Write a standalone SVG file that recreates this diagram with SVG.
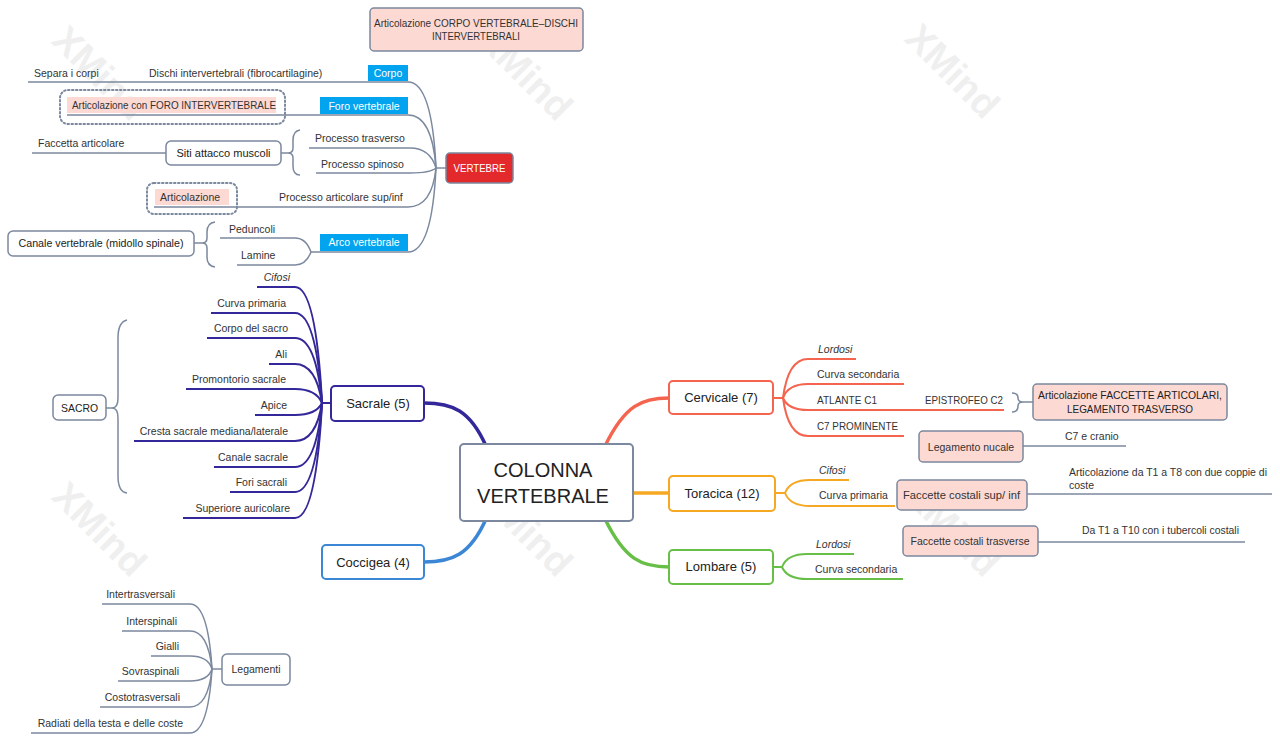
<svg xmlns="http://www.w3.org/2000/svg" width="1280" height="741" viewBox="0 0 1280 741">
<style>
text{font-family:"Liberation Sans",Arial,sans-serif;fill:#333;font-size:10.5px}
.wm{font-size:38px;font-weight:bold;fill:#efefef}
.c{text-anchor:middle}
.e{text-anchor:end}
.it{font-style:italic}
.g{fill:none;stroke:#7b889e;stroke-width:1.5}
.ind{fill:none;stroke:#33279a;stroke-width:2}
.red{fill:none;stroke:#f4644f;stroke-width:2}
.org{fill:none;stroke:#f6a823;stroke-width:2}
.grn{fill:none;stroke:#68bf47;stroke-width:2}
.box{fill:#fff;stroke:#7b889e;stroke-width:1.5}
.pink{fill:#fdd9d3;stroke:#7b889e;stroke-width:1.5}
.lbl{fill:#02a3ef}
.wt{fill:#fff}
.dot{fill:none;stroke:#7b889e;stroke-width:2;stroke-dasharray:1.5 2.5;stroke-linecap:round}
.mt{font-size:13px;fill:#222}
</style>
<rect width="1280" height="741" fill="#fff"/>
<g id="watermarks">
<text class="wm" transform="translate(50,42) rotate(45)">XMind</text>
<text class="wm" transform="translate(476,42) rotate(45)">XMind</text>
<text class="wm" transform="translate(903,40) rotate(45)">XMind</text>
<text class="wm" transform="translate(50,498) rotate(45)">XMind</text>
<text class="wm" transform="translate(476,498) rotate(45)">XMind</text>
<text class="wm" transform="translate(903,498) rotate(45)">XMind</text>
</g>
<g id="connectors">
<path d="M486 446 C470 410 452 403 424 403" fill="none" stroke="#33279a" stroke-width="3.5"/>
<path d="M486 519 C470 555 452 562 424 562" fill="none" stroke="#3b87d6" stroke-width="3.5"/>
<path d="M605 446 C625 405 642 398 669 398" fill="none" stroke="#f4644f" stroke-width="3.5"/>
<path d="M633 493 L669 493" fill="none" stroke="#f6a823" stroke-width="3.5"/>
<path d="M605 519 C625 560 642 567 669 567" fill="none" stroke="#68bf47" stroke-width="3.5"/>
<path class="g" d="M446 168 L436 168"/>
<path class="g" d="M436 168 Q432 82 408 82 L28 82"/>
<path class="g" d="M436 168 Q432 115 408 115 L67 115"/>
<path class="g" d="M436 168 Q430 148 410 148 L309 148"/>
<path class="g" d="M436 168 Q430 173 410 173 L316 173"/>
<path class="g" d="M436 168 Q432 207 408 207 L154 207"/>
<path class="g" d="M436 168 Q432 252 408 252 L320 252"/>
<path class="g" d="M320 252 L311 252 Q306 238 295 238 L220 238"/>
<path class="g" d="M311 252 Q306 265 295 265 L237 265"/>
<path class="g" d="M300 130 Q293 131 293 140 L293 148 Q293 153 288 153 Q293 153 293 158 L293 166 Q293 175 300 175"/>
<path class="g" d="M288 153 L281 153"/>
<path class="g" d="M166 153 L32 153"/>
<path class="g" d="M215 222 Q207 223 207 232 L207 238 Q207 243 202 243 Q207 243 207 248 L207 257 Q207 266 215 267"/>
<path class="g" d="M202 243 L194 243"/>
<path class="ind" d="M331 403 L322 403"/>
<path class="ind" d="M322 403 Q316 287 295 287 L257 287"/>
<path class="ind" d="M322 403 Q316 313 295 313 L211 313"/>
<path class="ind" d="M322 403 Q316 338 295 338 L207 338"/>
<path class="ind" d="M322 403 Q316 364 295 364 L269 364"/>
<path class="ind" d="M322 403 Q316 389 295 389 L186 389"/>
<path class="ind" d="M322 403 Q316 415 295 415 L255 415"/>
<path class="ind" d="M322 403 Q316 441 295 441 L134 441"/>
<path class="ind" d="M322 403 Q316 467 295 467 L214 467"/>
<path class="ind" d="M322 403 Q316 492 295 492 L230 492"/>
<path class="ind" d="M322 403 Q316 518 295 518 L183 518"/>
<path class="g" d="M127 320 Q118 322 118 338 L118 398 Q118 408 112 408 Q118 408 118 418 L118 476 Q118 492 127 493"/>
<path class="g" d="M112 408 L106 408"/>
<path class="red" d="M773 398 L783 398"/>
<path class="red" d="M783 398 Q788 359 808 359 L856 359"/>
<path class="red" d="M783 398 Q788 384 808 384 L904 384"/>
<path class="red" d="M783 398 Q788 410 808 410 L1004 410"/>
<path class="red" d="M783 398 Q788 436 808 436 L904 436"/>
<path class="g" d="M1012 393 Q1018 393 1018 398 Q1018 402 1023 402 Q1018 402 1018 406 Q1018 412 1012 412"/>
<path class="g" d="M1023 402 L1033 402"/>
<path class="g" d="M1023 446 L1126 446"/>
<path class="org" d="M775 493 L785 493"/>
<path class="org" d="M785 493 Q790 480 810 480 L849 480"/>
<path class="org" d="M785 493 Q790 506 810 506 L895 506"/>
<path class="g" d="M1027 494 L1272 494"/>
<path class="grn" d="M773 567 L782 567"/>
<path class="grn" d="M782 567 Q787 554 807 554 L854 554"/>
<path class="grn" d="M782 567 Q787 579 807 579 L903 579"/>
<path class="g" d="M1038 542 L1245 542"/>
<path class="g" d="M222 669 L212 669"/>
<path class="g" d="M212 669 Q208 604 190 604 L102 604"/>
<path class="g" d="M212 669 Q208 631 190 631 L122 631"/>
<path class="g" d="M212 669 Q208 656 190 656 L151 656"/>
<path class="g" d="M212 669 Q208 681 190 681 L118 681"/>
<path class="g" d="M212 669 Q208 707 190 707 L100 707"/>
<path class="g" d="M212 669 Q208 733 190 733 L31 733"/>
</g>
<g id="center">
<rect x="460" y="444" width="173" height="77" rx="4" fill="#fff" stroke="#7b889e" stroke-width="2"/>
<text class="c" x="543" y="477" style="font-size:20px;fill:#222">COLONNA</text>
<text class="c" x="543" y="503" style="font-size:20px;fill:#222">VERTEBRALE</text>
</g>
<g id="top-note">
<rect class="pink" x="370" y="8" width="213" height="43" rx="4"/>
<text class="c" x="476" y="27" textLength="204" lengthAdjust="spacingAndGlyphs">Articolazione CORPO VERTEBRALE–DISCHI</text>
<text class="c" x="476" y="40" textLength="88" lengthAdjust="spacingAndGlyphs">INTERVERTEBRALI</text>
</g>
<g id="vertebre">
<rect x="446" y="153" width="67" height="30" rx="4" fill="#e3292b" stroke="#7b889e" stroke-width="1.5"/>
<text class="c wt" x="479.5" y="172" textLength="52" lengthAdjust="spacingAndGlyphs">VERTEBRE</text>
</g>
<g id="corpo">
<rect class="lbl" x="368" y="65" width="40" height="16"/>
<text class="c wt" x="388" y="77">Corpo</text>
<text x="149" y="77">Dischi intervertebrali (fibrocartilagine)</text>
<text x="34" y="77">Separa i corpi</text>
</g>
<g id="foro">
<rect class="lbl" x="320" y="97" width="88" height="17"/>
<text class="c wt" x="364" y="110">Foro vertebrale</text>
<rect class="dot" x="60" y="90" width="225" height="34" rx="8"/>
<rect x="67" y="97" width="209" height="16" fill="#fdd9d3"/>
<text x="72" y="109" textLength="204" lengthAdjust="spacingAndGlyphs">Articolazione con FORO INTERVERTEBRALE</text>
</g>
<g id="processi">
<text x="315" y="142">Processo trasverso</text>
<text x="321" y="168">Processo spinoso</text>
<rect class="box" x="166" y="141" width="115" height="24" rx="5"/>
<text class="c" x="223.5" y="157" style="fill:#222;font-size:11px">Siti attacco muscoli</text>
<text x="38" y="147">Faccetta articolare</text>
</g>
<g id="articolare">
<text x="279" y="201">Processo articolare sup/inf</text>
<rect class="dot" x="147" y="183" width="90" height="31" rx="7"/>
<rect x="155" y="189" width="74" height="16" fill="#fdd9d3"/>
<text x="160" y="201">Articolazione</text>
</g>
<g id="arco">
<rect class="lbl" x="320" y="234" width="88" height="17"/>
<text class="c wt" x="364" y="246">Arco vertebrale</text>
<text x="229" y="233">Peduncoli</text>
<text x="241" y="259">Lamine</text>
<rect class="box" x="8" y="231" width="186" height="25" rx="5"/>
<text class="c" x="101" y="247" style="fill:#222;font-size:11px" textLength="165" lengthAdjust="spacingAndGlyphs">Canale vertebrale (midollo spinale)</text>
</g>
<g id="sacrale">
<rect x="331" y="386" width="93" height="35" rx="4" fill="#fff" stroke="#33279a" stroke-width="2"/>
<text class="c mt" x="378" y="408">Sacrale (5)</text>
<text class="e it" x="290" y="281">Cifosi</text>
<text class="e" x="286" y="307">Curva primaria</text>
<text class="e" x="288" y="332">Corpo del sacro</text>
<text class="e" x="287" y="358">Ali</text>
<text class="e" x="286" y="383">Promontorio sacrale</text>
<text class="e" x="287" y="409">Apice</text>
<text class="e" x="288" y="435">Cresta sacrale mediana/laterale</text>
<text class="e" x="288" y="461">Canale sacrale</text>
<text class="e" x="287" y="486">Fori sacrali</text>
<text class="e" x="290" y="512">Superiore auricolare</text>
</g>
<g id="sacro">
<rect class="box" x="53" y="395" width="53" height="25" rx="5"/>
<text class="c" x="79.5" y="412" style="fill:#222" textLength="37" lengthAdjust="spacingAndGlyphs">SACRO</text>
</g>
<g id="coccigea">
<rect x="322" y="545" width="102" height="34" rx="4" fill="#fff" stroke="#3b87d6" stroke-width="2"/>
<text class="c mt" x="373" y="567">Coccigea (4)</text>
</g>
<g id="cervicale">
<rect x="669" y="381" width="104" height="33" rx="4" fill="#fff" stroke="#f4644f" stroke-width="2"/>
<text class="c mt" x="721" y="402">Cervicale (7)</text>
<text class="it" x="818" y="353">Lordosi</text>
<text x="817" y="378">Curva secondaria</text>
<text x="817" y="404" textLength="60" lengthAdjust="spacingAndGlyphs">ATLANTE C1</text>
<text x="925" y="404" textLength="78" lengthAdjust="spacingAndGlyphs">EPISTROFEO C2</text>
<text x="817" y="430" textLength="81" lengthAdjust="spacingAndGlyphs">C7 PROMINENTE</text>
</g>
<g id="faccette-articolari">
<rect class="pink" x="1033" y="384" width="194" height="36" rx="4"/>
<text class="c" x="1130" y="399" style="fill:#222;font-size:11px" textLength="184" lengthAdjust="spacingAndGlyphs">Articolazione FACCETTE ARTICOLARI,</text>
<text class="c" x="1130" y="413" style="fill:#222;font-size:11px" textLength="126" lengthAdjust="spacingAndGlyphs">LEGAMENTO TRASVERSO</text>
</g>
<g id="legamento-nucale">
<rect class="pink" x="919" y="431" width="104" height="31" rx="4"/>
<text class="c" x="971" y="451">Legamento nucale</text>
<text x="1065" y="440">C7 e cranio</text>
</g>
<g id="toracica">
<rect x="669" y="476" width="106" height="35" rx="4" fill="#fff" stroke="#f6a823" stroke-width="2"/>
<text class="c mt" x="722" y="498">Toracica (12)</text>
<text class="it" x="819" y="474">Cifosi</text>
<text x="819" y="499">Curva primaria</text>
</g>
<g id="faccette-sup-inf">
<rect class="pink" x="897" y="480" width="130" height="30" rx="4"/>
<text x="903" y="499" textLength="117" lengthAdjust="spacingAndGlyphs">Faccette costali  sup/ inf</text>
<text x="1069" y="476" textLength="198" lengthAdjust="spacingAndGlyphs">Articolazione da T1 a T8 con due coppie di</text>
<text x="1069" y="489">coste</text>
</g>
<g id="lombare">
<rect x="669" y="550" width="104" height="34" rx="4" fill="#fff" stroke="#68bf47" stroke-width="2"/>
<text class="c mt" x="721" y="571">Lombare (5)</text>
<text class="it" x="816" y="548">Lordosi</text>
<text x="815" y="573">Curva secondaria</text>
</g>
<g id="faccette-trasverse">
<rect class="pink" x="903" y="526" width="135" height="30" rx="4"/>
<text class="c" x="970" y="545">Faccette costali trasverse</text>
<text x="1082" y="534" textLength="157" lengthAdjust="spacingAndGlyphs">Da T1 a T10 con i tubercoli costali</text>
</g>
<g id="legamenti">
<rect class="box" x="222" y="654" width="68" height="31" rx="5"/>
<text class="c" x="256" y="673">Legamenti</text>
<text class="e" x="175" y="598">Intertrasversali</text>
<text class="e" x="177" y="625">Interspinali</text>
<text class="e" x="179" y="650">Gialli</text>
<text class="e" x="179" y="675">Sovraspinali</text>
<text class="e" x="180" y="701">Costotrasversali</text>
<text class="e" x="183" y="727">Radiati della testa e delle coste</text>
</g>
</svg>
